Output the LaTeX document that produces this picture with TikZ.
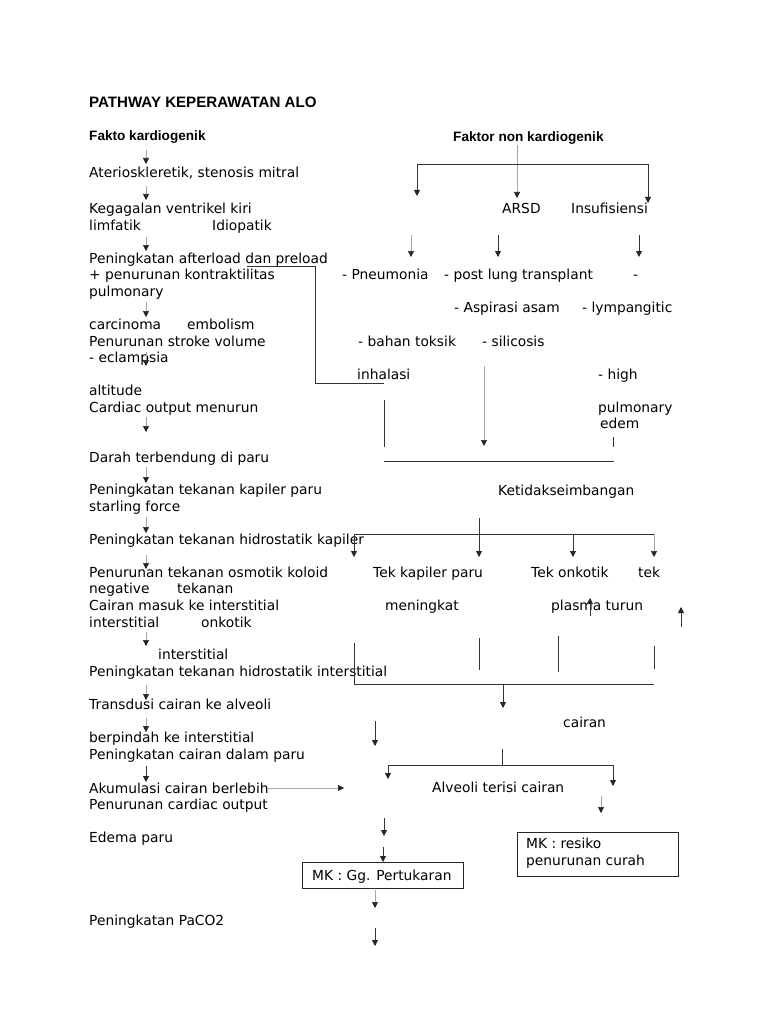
\documentclass[tikz,border=0pt]{standalone}
\usepackage{fontspec}
\setmainfont{DejaVu Sans}
\newfontfamily\boldlab{Liberation Sans}
\usetikzlibrary{arrows.meta}
\begin{document}
\begin{tikzpicture}[x=1pt,y=-1pt,
  txt/.style={anchor=west,inner sep=0pt,text height=10pt,text depth=0pt,font=\fontsize{13.8}{16}\selectfont},
  bld/.style={anchor=west,inner sep=0pt,text height=9.7pt,text depth=0pt,font=\boldlab\fontsize{13.6}{15}\selectfont\bfseries},
  ttl/.style={anchor=west,inner sep=0pt,text height=10.7pt,text depth=0pt,font=\boldlab\fontsize{15.1}{17}\selectfont\bfseries},
  ln/.style={draw=black!80,line width=0.8pt},
  lt/.style={draw=black!35,line width=0.6pt},
  ar/.style={-{Triangle[length=6pt,width=6pt,color=black!85]}},
  box/.style={draw=black!85,line width=0.8pt,anchor=north west,inner sep=0pt},
]
\useasboundingbox[fill=white] (0,0) rectangle (768,1024);
% ---------- left column ----------
\node[ttl] (title) at (89,102) {PATHWAY KEPERAWATAN ALO};
\node[bld] (fk) at (89,136) {Fakto kardiogenik};
\node[txt] (l1) at (89,173) {Aterioskleretik, stenosis mitral};
\node[txt] (l2) at (89,209) {Kegagalan ventrikel kiri};
\node[txt] (l3a) at (89,225) {limfatik};
\node[txt] (l3b) at (212,225) {Idiopatik};
\node[txt] (l4) at (89,258) {Peningkatan afterload dan preload};
\node[txt] (l5) at (89,274) {+ penurunan kontraktilitas};
\node[txt] (l6) at (89,291) {pulmonary};
\node[txt] (l7a) at (89,324) {carcinoma};
\node[txt] (l7b) at (187,324) {embolism};
\node[txt] (l8) at (89,341) {Penurunan stroke volume};
\node[txt] (l9) at (89,357) {- eclampsia};
\node[txt] (l10) at (89,390) {altitude};
\node[txt] (l11) at (89,407) {Cardiac output menurun};
\node[txt] (l12) at (89,457) {Darah terbendung di paru};
\node[txt] (l13) at (89,489) {Peningkatan tekanan kapiler paru};
\node[txt] (l14) at (89,506) {starling force};
\node[txt] (l15) at (89,539) {Peningkatan tekanan hidrostatik kapiler};
\node[txt] (l16) at (89,572) {Penurunan tekanan osmotik koloid};
\node[txt] (l17a) at (89,588) {negative};
\node[txt] (l17b) at (177,588) {tekanan};
\node[txt] (l18) at (89,605) {Cairan masuk ke interstitial};
\node[txt] (l19a) at (89,622) {interstitial};
\node[txt] (l19b) at (201,622) {onkotik};
\node[txt] (l20) at (158,654) {interstitial};
\node[txt] (l21) at (89,671) {Peningkatan tekanan hidrostatik interstitial};
\node[txt] (l22) at (89,704) {Transdusi cairan ke alveoli};
\node[txt] (l23) at (89,737) {berpindah ke interstitial};
\node[txt] (l24) at (89,754) {Peningkatan cairan dalam paru};
\node[txt] (l25) at (89,788) {Akumulasi cairan berlebih};
\node[txt] (l26) at (89,804) {Penurunan cardiac output};
\node[txt] (l27) at (89,837) {Edema paru};
\node[txt] (l28) at (89,920) {Peningkatan PaCO2};
% left arrows
\foreach \a/\b in {150/164,186/200,237/251,302/317,352/366,417/432,467/483,517/533,555/569,632/646,685/700,718/732}
  \draw[lt,ar] (146,\a) -- (146,\b);
\draw[ln,ar] (146,766) -- (146,782);
\draw[lt,ar] (268,788) -- (344,788);
% bracket from preload
\draw[ln] (247,266) -- (315,266) -- (315,383) -- (384,383);
% ---------- right column ----------
\node[bld] (fnk) at (453,137) {Faktor non kardiogenik};
\draw[lt,ar] (517,145) -- (517,198);
\draw[ln] (417,164) -- (648,164);
\draw[ln,ar] (417,164) -- (417,196);
\draw[ln,ar] (648,164) -- (648,203);
\node[txt] (arsd) at (502,209) {ARSD};
\node[txt] (ins) at (571,209) {Insufisiensi};
\draw[lt,ar] (411,235) -- (411,257);
\draw[ln,ar] (498,235) -- (498,257);
\draw[ln,ar] (639,235) -- (639,257);
\node[txt] (r1) at (342,274) {- Pneumonia};
\node[txt] (r2) at (444,274) {- post lung transplant};
\node[txt] (r3) at (633,274) {-};
\node[txt] (r4) at (454,307) {- Aspirasi asam};
\node[txt] (r5) at (582,307) {- lympangitic};
\node[txt] (r6) at (358,341) {- bahan toksik};
\node[txt] (r7) at (482,341) {- silicosis};
\node[txt] (r8) at (357,374) {inhalasi};
\node[txt] (r9) at (598,374) {- high};
\node[txt] (r10) at (598,407) {pulmonary};
\node[txt] (r11) at (600,423) {edem};
\draw[ln] (384,400) -- (384,447);
\draw[lt,ar] (484,366) -- (484,446);
\draw[ln] (613,437) -- (613,447);
\draw[ln] (384,461) -- (614,461);
\node[txt] (ket) at (498,490) {Ketidakseimbangan};
\draw[ln,ar] (479,518) -- (479,557);
\draw[ln] (354,534) -- (654,534);
\draw[ln,ar] (354,534) -- (354,557);
\draw[ln,ar] (573,534) -- (573,557);
\draw[lt,ar] (654,534) -- (654,557);
\node[txt] (t1) at (373,572) {Tek kapiler paru};
\node[txt] (t2) at (531,572) {Tek onkotik};
\node[txt] (t3) at (638,572) {tek};
\node[txt] (t4) at (385,605) {meningkat};
\node[txt] (t5) at (551,605) {plasma turun};
\draw[ln,ar] (590,616) -- (590,598);
\draw[ln,ar] (681,627) -- (681,607);
\draw[ln] (354,643) -- (354,684) -- (654,684);
\draw[ln] (479,638) -- (479,670);
\draw[ln] (558,636) -- (558,672);
\draw[ln] (654,646) -- (654,669);
\draw[ln,ar] (503,684) -- (503,708);
\node[txt] (c1) at (563,722) {cairan};
\draw[ln,ar] (375,721) -- (375,746);
\draw[ln] (502,749) -- (502,765);
\draw[ln] (388,765) -- (613,765);
\draw[ln,ar] (388,765) -- (388,779);
\draw[ln,ar] (613,765) -- (613,786);
\node[txt] (alv) at (432,787) {Alveoli terisi cairan};
\draw[lt,ar] (601,796) -- (601,813);
\draw[ln,ar] (384,818) -- (384,836);
\draw[ln,ar] (383,847) -- (383,862);
\node[box,minimum width=161pt,minimum height=26pt] (mk1) at (302,862) {};
\node[txt] (mk1t) at (312,875) {MK : Gg. Pertukaran};
\draw[lt,ar] (375,890) -- (375,908);
\draw[ln,ar] (375,928) -- (375,946);
\node[box,minimum width=161pt,minimum height=44pt] (mk2) at (517,832) {};
\node[txt] (mk2a) at (526,843) {MK : resiko};
\node[txt] (mk2b) at (526,860) {penurunan curah};
\end{tikzpicture}
\end{document}
